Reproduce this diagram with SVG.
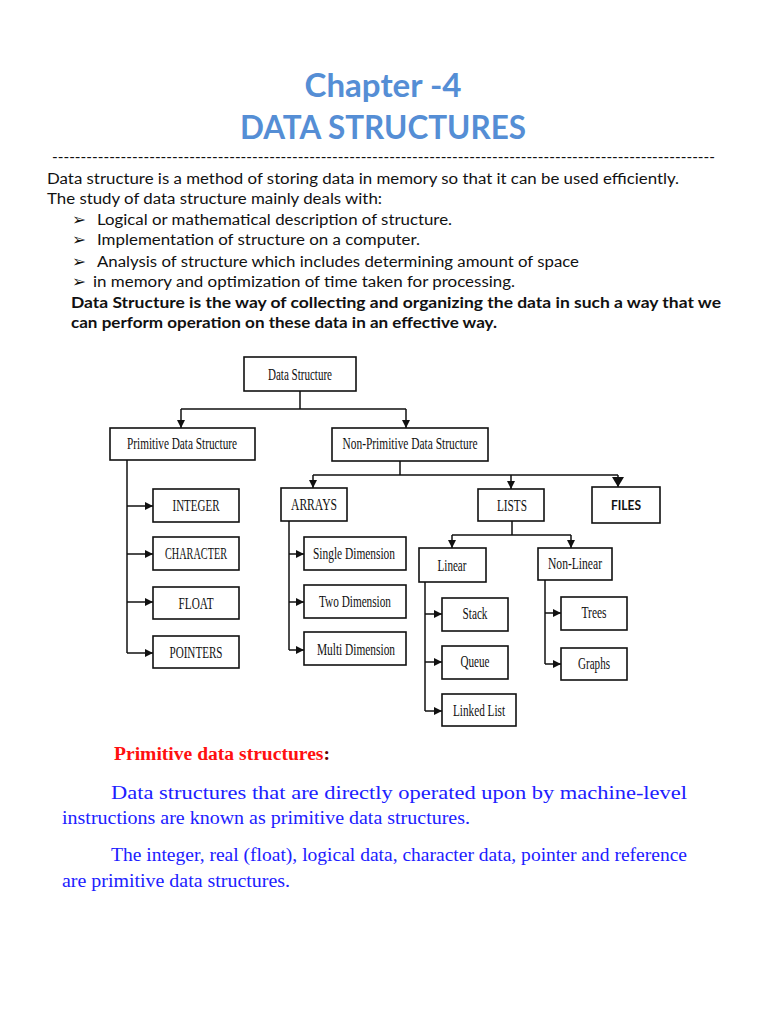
<svg xmlns="http://www.w3.org/2000/svg" width="768" height="1024" viewBox="0 0 768 1024">
<defs>
<style>
.title{font-family:Lato,"Open Sans",sans-serif;font-weight:bold;font-size:32px;fill:#558ed5;text-anchor:middle}
.body{font-family:Lato,"Liberation Sans",sans-serif;font-size:15.5px;fill:#111}
.bold{font-family:Lato,"Liberation Sans",sans-serif;font-size:15.5px;font-weight:bold;fill:#111}
.bul{font-family:"DejaVu Sans",sans-serif;font-size:16px;fill:#111}
.box{fill:#fff;stroke:#111;stroke-width:1.6}
.lbl{font-family:"Liberation Serif",serif;font-size:16px;fill:#111;text-anchor:middle}
.con{fill:none;stroke:#111;stroke-width:1.5}
.red{font-family:"Liberation Serif",serif;font-weight:bold;font-size:18px;fill:#ff1010}
.blue{font-family:"Liberation Serif",serif;font-size:19px;fill:#2020ff}
</style>
<marker id="ah" markerUnits="userSpaceOnUse" markerWidth="10" markerHeight="10" refX="8" refY="4" orient="auto"><path d="M0,0 L8,4 L0,8 z" fill="#111"/></marker>
<marker id="ahb" markerUnits="userSpaceOnUse" markerWidth="14" markerHeight="14" refX="10" refY="6" orient="auto"><path d="M0,0 L10,6 L0,12 z" fill="#111"/></marker>
</defs>
<rect width="768" height="1024" fill="#fff"/>

<g id="header">
<text class="title" x="383" y="97" textLength="157" lengthAdjust="spacingAndGlyphs">Chapter -4</text>
<text class="title" x="383" y="139" textLength="286" lengthAdjust="spacingAndGlyphs">DATA STRUCTURES</text>
<text class="body" x="52" y="162" textLength="663" lengthAdjust="spacingAndGlyphs">--------------------------------------------------------------------------------------------------------------------</text>
</g>

<g id="intro">
<text class="body" x="47" y="184" textLength="632" lengthAdjust="spacingAndGlyphs">Data structure is a method of storing data in memory so that it can be used efficiently.</text>
<text class="body" x="47" y="204" textLength="335" lengthAdjust="spacingAndGlyphs">The study of data structure mainly deals with:</text>
<text class="bul" x="72" y="225" textLength="14" lengthAdjust="spacingAndGlyphs">➢</text>
<text class="body" x="97" y="225" textLength="355" lengthAdjust="spacingAndGlyphs">Logical or mathematical description of structure.</text>
<text class="bul" x="72" y="245" textLength="14" lengthAdjust="spacingAndGlyphs">➢</text>
<text class="body" x="97" y="245" textLength="323" lengthAdjust="spacingAndGlyphs">Implementation of structure on a computer.</text>
<text class="bul" x="72" y="267" textLength="14" lengthAdjust="spacingAndGlyphs">➢</text>
<text class="body" x="97" y="267" textLength="482" lengthAdjust="spacingAndGlyphs">Analysis of structure which includes determining amount of space</text>
<text class="bul" x="72" y="287" textLength="14" lengthAdjust="spacingAndGlyphs">➢</text>
<text class="body" x="93" y="287" textLength="422" lengthAdjust="spacingAndGlyphs">in memory and optimization of time taken for processing.</text>
<text class="bold" x="71" y="308" textLength="650" lengthAdjust="spacingAndGlyphs">Data Structure is the way of collecting and organizing the data in such a way that we</text>
<text class="bold" x="71" y="328" textLength="426" lengthAdjust="spacingAndGlyphs">can perform operation on these data in an effective way.</text>
</g>

<g id="connectors">
<path class="con" d="M300,391 V409 M181,409 H406"/>
<path class="con" d="M181,409 V428" marker-end="url(#ah)"/>
<path class="con" d="M406,409 V428" marker-end="url(#ah)"/>
<path class="con" d="M127,460 V653"/>
<path class="con" d="M127,506 H153" marker-end="url(#ah)"/>
<path class="con" d="M127,554 H153" marker-end="url(#ah)"/>
<path class="con" d="M127,602 H153" marker-end="url(#ah)"/>
<path class="con" d="M127,653 H153" marker-end="url(#ah)"/>
<path class="con" d="M400,461 V475 M313,475 H512"/>
<path class="con" d="M512,475 H618" stroke="#555"/>
<path class="con" d="M313,475 V488" marker-end="url(#ah)"/>
<path class="con" d="M511,475 V489" marker-end="url(#ah)"/>
<path class="con" d="M618,475 V487" marker-end="url(#ahb)"/>
<path class="con" d="M289,521 V650"/>
<path class="con" d="M289,554 H304" marker-end="url(#ah)"/>
<path class="con" d="M289,602 H304" marker-end="url(#ah)"/>
<path class="con" d="M289,650 H304" marker-end="url(#ah)"/>
<path class="con" d="M512,521 V535 M452,535 H571"/>
<path class="con" d="M452,535 V548" marker-end="url(#ah)"/>
<path class="con" d="M571,535 V548" marker-end="url(#ah)"/>
<path class="con" d="M425,582 V711"/>
<path class="con" d="M425,614 H442" marker-end="url(#ah)"/>
<path class="con" d="M425,662 H442" marker-end="url(#ah)"/>
<path class="con" d="M425,711 H442" marker-end="url(#ah)"/>
<path class="con" d="M545,580 V664"/>
<path class="con" d="M545,613 H561" marker-end="url(#ah)"/>
<path class="con" d="M545,664 H561" marker-end="url(#ah)"/>
</g>

<g id="n-ds"><rect class="box" x="244" y="357" width="112" height="34"/><text class="lbl" x="300" y="380" textLength="64" lengthAdjust="spacingAndGlyphs">Data Structure</text></g>
<g id="n-prim"><rect class="box" x="110" y="428" width="145" height="32"/><text class="lbl" x="182" y="449" textLength="110" lengthAdjust="spacingAndGlyphs">Primitive Data Structure</text></g>
<g id="n-nonprim"><rect class="box" x="332" y="428" width="156" height="33"/><text class="lbl" x="410" y="449" textLength="135" lengthAdjust="spacingAndGlyphs">Non-Primitive Data Structure</text></g>
<g id="n-integer"><rect class="box" x="153" y="489" width="86" height="33"/><text class="lbl" x="196" y="511" textLength="47" lengthAdjust="spacingAndGlyphs">INTEGER</text></g>
<g id="n-character"><rect class="box" x="153" y="537" width="86" height="33"/><text class="lbl" x="196" y="559" textLength="62" lengthAdjust="spacingAndGlyphs">CHARACTER</text></g>
<g id="n-float"><rect class="box" x="153" y="587" width="86" height="32"/><text class="lbl" x="196" y="609" textLength="35" lengthAdjust="spacingAndGlyphs">FLOAT</text></g>
<g id="n-pointers"><rect class="box" x="153" y="636" width="86" height="32"/><text class="lbl" x="196" y="658" textLength="53" lengthAdjust="spacingAndGlyphs">POINTERS</text></g>
<g id="n-arrays"><rect class="box" x="281" y="488" width="66" height="33"/><text class="lbl" x="314" y="510" textLength="46" lengthAdjust="spacingAndGlyphs">ARRAYS</text></g>
<g id="n-single"><rect class="box" x="304" y="537" width="102" height="33"/><text class="lbl" x="354" y="559" textLength="82" lengthAdjust="spacingAndGlyphs">Single Dimension</text></g>
<g id="n-two"><rect class="box" x="304" y="585" width="102" height="33"/><text class="lbl" x="355" y="607" textLength="72" lengthAdjust="spacingAndGlyphs">Two Dimension</text></g>
<g id="n-multi"><rect class="box" x="304" y="632" width="102" height="33"/><text class="lbl" x="356" y="655" textLength="78" lengthAdjust="spacingAndGlyphs">Multi Dimension</text></g>
<g id="n-lists"><rect class="box" x="478" y="489" width="66" height="32"/><text class="lbl" x="512" y="511" textLength="30" lengthAdjust="spacingAndGlyphs">LISTS</text></g>
<g id="n-files"><rect class="box" x="592" y="487" width="68" height="36" stroke-width="2.5"/><text x="626" y="510" font-family="Lato,'Liberation Sans',sans-serif" font-weight="bold" font-size="14" fill="#111" text-anchor="middle" textLength="30" lengthAdjust="spacingAndGlyphs">FILES</text></g>
<g id="n-linear"><rect class="box" x="419" y="548" width="67" height="34"/><text class="lbl" x="452" y="571" textLength="29" lengthAdjust="spacingAndGlyphs">Linear</text></g>
<g id="n-nonlinear"><rect class="box" x="538" y="548" width="74" height="32"/><text class="lbl" x="575" y="569" textLength="54" lengthAdjust="spacingAndGlyphs">Non-Linear</text></g>
<g id="n-stack"><rect class="box" x="442" y="598" width="66" height="33"/><text class="lbl" x="475" y="619" textLength="25" lengthAdjust="spacingAndGlyphs">Stack</text></g>
<g id="n-queue"><rect class="box" x="442" y="646" width="66" height="33"/><text class="lbl" x="475" y="667" textLength="29" lengthAdjust="spacingAndGlyphs">Queue</text></g>
<g id="n-linked"><rect class="box" x="442" y="694" width="74" height="32"/><text class="lbl" x="479" y="716" textLength="52" lengthAdjust="spacingAndGlyphs">Linked List</text></g>
<g id="n-trees"><rect class="box" x="561" y="597" width="66" height="33"/><text class="lbl" x="594" y="618" textLength="25" lengthAdjust="spacingAndGlyphs">Trees</text></g>
<g id="n-graphs"><rect class="box" x="561" y="648" width="66" height="32"/><text class="lbl" x="594" y="669" textLength="32" lengthAdjust="spacingAndGlyphs">Graphs</text></g>

<g id="primitive-text">
<text class="red" x="114" y="760" textLength="216" lengthAdjust="spacingAndGlyphs">Primitive data structures<tspan fill="#600">:</tspan></text>
<text class="blue" x="111" y="799" textLength="576" lengthAdjust="spacingAndGlyphs">Data structures that are directly operated upon by machine-level</text>
<text class="blue" x="62" y="824" textLength="408" lengthAdjust="spacingAndGlyphs">instructions are known as primitive data structures.</text>
<text class="blue" x="111" y="861" textLength="576" lengthAdjust="spacingAndGlyphs">The integer, real (float), logical data, character data, pointer and reference</text>
<text class="blue" x="62" y="887" textLength="228" lengthAdjust="spacingAndGlyphs">are primitive data structures.</text>
</g>
</svg>
